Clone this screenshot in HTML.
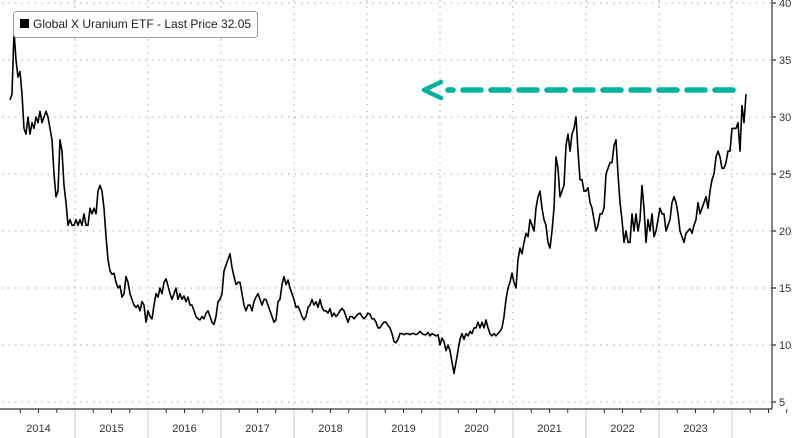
<!DOCTYPE html>
<html><head><meta charset="utf-8"><style>
body{margin:0;background:#fff;}
svg{display:block;font-family:"Liberation Sans",sans-serif;}
</style></head><body>
<svg id="chart" width="800" height="438"></svg>
<script>
const values=[31.5,32,37.5,35,33.5,34,32,29,28.5,30,28.5,29.5,29,30,29.5,30.5,29.5,30,30.5,30,29,28,25,23,23.5,28,27,24,22.5,20.5,21,20.5,20.5,21,20.5,21,20.5,21.5,20.5,20.5,22,21.5,22,21.5,23.5,24,23.5,22,19.5,17.5,16.5,16.2,16.3,15.5,15,15.2,14.2,14.5,16,15.5,14.5,14,13.5,13.3,13.5,13,13.8,13.5,12,13,12.5,12.3,13.5,14.5,14.2,15,14.5,15.5,15.8,15.2,14.5,14,14.5,15,14,14.5,14,14.3,13.8,14.2,13.5,13.5,13,12.5,12.3,12.2,12.5,12.3,12.8,13,12.5,12,11.8,12.5,13.8,14,14.5,16.5,17,17.5,18,16.8,16,15.3,15.5,15.5,14.5,13.5,13,13.5,13.5,13,13.8,14.2,14.5,14,13.5,14,14,13.5,13,12.5,12,12.2,13.8,14,15.3,16,15.3,15.7,15,14.5,14,13.3,13.4,13,12.5,12.2,12.5,13.3,13.5,14,13.5,13.8,13.3,14,13.3,13,13,12.8,13.2,12.5,12.8,12.5,12.7,13,13.2,13,12.5,12,12.5,12.5,12.3,12.5,12.7,12.8,12.5,12.3,12.5,12.8,12.7,12.3,12.3,12,11.5,11.5,11.8,12,12,11.7,11.5,11,10.3,10.2,10.5,11,11,10.9,11,11,10.9,11,11,10.9,11,11.2,11,10.9,10.9,11.1,10.8,11,10.9,10.8,10.9,10,10.6,10.3,9.5,10,9.5,8.5,7.5,8.5,9.5,10.5,11,10.5,11,10.8,11.2,11,11.5,11.5,12,11.5,12,11.5,12.2,11.5,11,10.8,11,10.8,11,11.2,11.5,12.5,14,15,15.5,16.3,15.5,15,17.5,18.5,18,19,19.8,19.5,21,20.5,20,22,23,23.5,22,21,20.5,19,18.5,20,22,26.5,25.5,23,23.5,24,27.5,28.5,27,28.5,29,30,27,24.5,24.5,23.5,23.5,23.8,22.5,22,21,20,20.5,21.5,21.5,22,25,25.5,26,26,27.5,28,25,22.5,21,19,20,19,19,21.5,20,21.5,20,21,24,22,19,21,20,21.5,19.5,20,21,22,21.5,21.5,20,20.5,21,22.5,23,22.5,21.5,20,19.5,19,19.8,20,20.2,19.8,20.5,21,22.5,21.5,22,22.5,23,22,23.5,24.5,25,26.5,27,26.5,25.5,25.5,26,27,27,29,29,29,29.5,27,31,29.5,32];
const dates=values.map((v,i)=>2014.11+i*2/73);
const years=[2014,2015,2016,2017,2018,2019,2020,2021,2022,2023];
const yTicks=[5,10,15,20,25,30,35,40];
const NS="http://www.w3.org/2000/svg";
const svg=document.getElementById('chart');
const xS=t=>2+(t-2014)*73;
const yS=v=>402-(v-5)*11.4;
function mk(tag,attrs,parent){const e=document.createElementNS(NS,tag);for(const k in attrs)e.setAttribute(k,attrs[k]);(parent||svg).appendChild(e);return e;}
yTicks.forEach(v=>{
  const g=mk('line',{x1:2,x2:772,y1:yS(v),y2:yS(v),stroke:'#aaa','stroke-dasharray':'1.5,5','stroke-width':1});
  
  
  mk('line',{x1:772,x2:776,y1:yS(v),y2:yS(v),stroke:'#000'});
  const t=mk('text',{x:779,y:yS(v)+4,'font-size':11,fill:'#333'});t.textContent=v;
  
  
});
years.concat([2024]).forEach(y=>{
  if(y>2014){
    const g=mk('line',{x1:xS(y),x2:xS(y),y1:0,y2:409,stroke:'#aaa','stroke-dasharray':'1.5,5'});
    
    
    mk('line',{x1:xS(y),x2:xS(y),y1:409,y2:438,stroke:'#ccc'});
  }
  for(let q=1;q<4;q++){mk('line',{x1:xS(y)+q*18.25,x2:xS(y)+q*18.25,y1:409,y2:413,stroke:'#333'});}
});
years.forEach(y=>{
  const t=mk('text',{x:xS(y+0.5),y:432,'font-size':11,fill:'#333','text-anchor':'middle'});t.textContent=y;
  
  
});
const ax=mk('line',{x1:0,x2:772,y1:409,y2:409,stroke:'#333','stroke-width':1.2});


const ay=mk('line',{x1:772,x2:772,y1:0,y2:409,stroke:'#333','stroke-width':1.2});


const p=mk('path',{d:values.map((v,i)=>(i?'L':'M')+xS(dates[i]).toFixed(1)+','+yS(v).toFixed(1)).join(''),fill:'none',stroke:'#000','stroke-width':1.6,'stroke-linejoin':'round'});


const ar=mk('g',{});


mk('line',{x1:733,x2:448,y1:90,y2:90,stroke:'#00b39c','stroke-width':5.5,'stroke-dasharray':'18,10','stroke-linecap':'round'},ar);
mk('polyline',{points:'441,82 424,90 441,98',fill:'none',stroke:'#00b39c','stroke-width':4.5,'stroke-linecap':'round','stroke-linejoin':'round'},ar);
const lg=mk('g',{});


mk('rect',{x:13.5,y:11.5,width:244,height:26,rx:3,fill:'#fff',stroke:'#999'},lg);
mk('rect',{x:20,y:19,width:9,height:9,fill:'#000'},lg);
const lt=mk('text',{x:33,y:28,'font-size':12,fill:'#222'},lg);lt.textContent='Global X Uranium ETF - Last Price 32.05';
</script>
</body></html>
